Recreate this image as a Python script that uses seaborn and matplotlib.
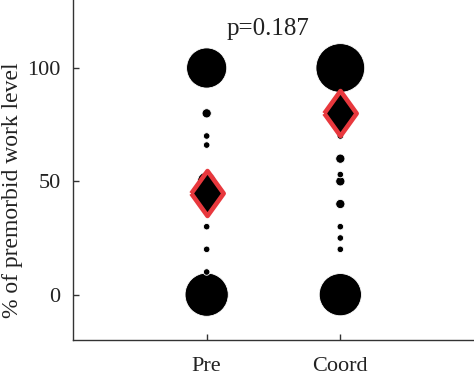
import numpy as np
import pandas as pd
import matplotlib
matplotlib.use("Agg")
import matplotlib.pyplot as plt
import seaborn as sns

# ---- data ----
groups = ["Pre", "Coord"]
pre_values = [0, 10, 20, 30, 50, 66, 70, 80, 100]
pre_counts = [44, 1, 1, 1, 8, 1, 1, 2, 38]
coord_values = [0, 20, 25, 30, 40, 50, 53, 60, 70, 100]
coord_counts = [42, 1, 1, 1, 2, 2, 1, 2, 1, 56]
group_means = [45, 80]
p_text = "p=0.187"

sns.set_theme(style="white")
plt.rcParams["font.family"] = ["Liberation Serif", "DejaVu Serif"]

rows = []
for gi, (vals, cnts) in enumerate([(pre_values, pre_counts), (coord_values, coord_counts)]):
    for v, c in zip(vals, cnts):
        rows.append({"pos": gi + 1, "value": v, "n": c})
df = pd.DataFrame(rows)
# larger points first so small ones sit on top
df = df.sort_values("n", ascending=False)

fig = plt.figure(figsize=(4.74, 3.72), dpi=100)
ax = fig.add_axes([73 / 474, 32 / 372, 401 / 474, 340 / 372])

k = 22.0
sizes = {n: k * n for n in df["n"].unique()}
sns.scatterplot(data=df, x="pos", y="value", size="n", sizes=sizes,
                color="black", edgecolor="white", linewidth=0.6,
                legend=False, ax=ax, zorder=3)

diamond = [(-0.72, 0), (0, 1), (0.72, 0), (0, -1), (-0.72, 0)]
mean_df = pd.DataFrame({"pos": [1, 2], "mean": group_means})
sns.scatterplot(data=mean_df, x="pos", y="mean", marker=diamond, s=1050,
                color="black", edgecolor="#e8383d", linewidth=3.3,
                legend=False, ax=ax, zorder=5)

ax.set_xlim(0, 3)
ax.set_ylim(-20, 130)
ax.set_xticks([1, 2])
ax.set_xticklabels(groups)
ax.set_yticks([0, 50, 100])
ax.set_xlabel("")
ax.set_ylabel("% of premorbid work level", fontsize=17, color="#222222")
ax.yaxis.set_label_coords(-0.125, 0.44)

for s in ["top", "right"]:
    ax.spines[s].set_visible(False)
for s in ["left", "bottom"]:
    ax.spines[s].set_color("#333333")
    ax.spines[s].set_linewidth(1.0)

ax.tick_params(axis="both", direction="in", length=4, width=1, colors="#333333",
               labelsize=16, labelcolor="#222222")
ax.tick_params(axis="y", pad=9)
ax.tick_params(axis="x", pad=12)
ax.tick_params(left=True, bottom=True)

ax.text(1.46, 117, p_text, ha="center", va="center", fontsize=18, color="#222222")

fig.savefig("out.png", dpi=100)
